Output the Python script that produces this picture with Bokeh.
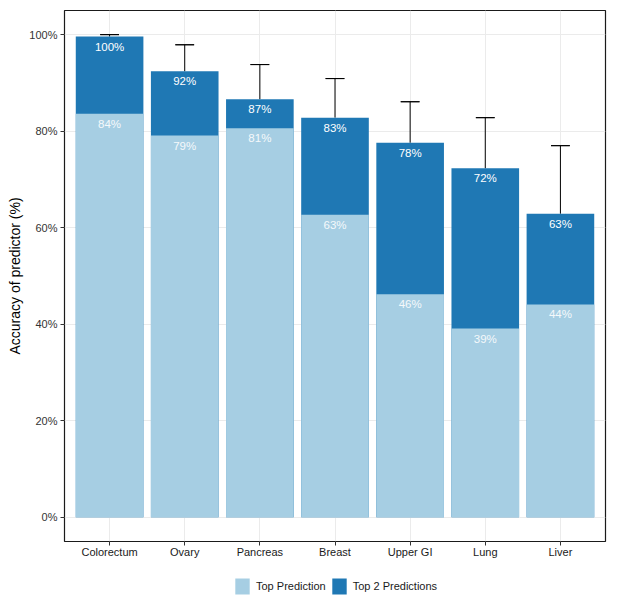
from bokeh.plotting import figure
from bokeh.layouts import column
from bokeh.models import (ColumnDataSource, FactorRange, FixedTicker, PrintfTickFormatter,
                          Legend, LegendItem)
from bokeh.embed import file_html
from bokeh.resources import INLINE
from bokeh.core.properties import value

categories = ["Colorectum", "Ovary", "Pancreas", "Breast", "Upper GI", "Lung", "Liver"]
top_pred = [83.6, 79.1, 80.6, 62.7, 46.2, 39.1, 44.1]
top2_pred = [99.6, 92.4, 86.6, 82.8, 77.6, 72.3, 62.9]
err_upper = [100.0, 97.9, 93.8, 90.9, 86.1, 82.8, 77.0]
y_ticks = [0, 20, 40, 60, 80, 100]
series_names = ["Top Prediction", "Top 2 Predictions"]

LIGHT = "#A6CEE3"
DARK = "#1F78B4"
FONT = "Liberation Sans"

src = ColumnDataSource(dict(
    cat=categories,
    top=top_pred,
    top2=top2_pred,
    up=err_upper,
    top_lbl=["%.0f%%" % v for v in top_pred],
    top2_lbl=["%.0f%%" % v for v in top2_pred],
))

p = figure(x_range=FactorRange(*categories, range_padding=0.1, range_padding_units="absolute"),
           y_range=(-5, 105),
           width=634, height=575,
           frame_width=541, frame_height=531,
           min_border_left=64, min_border_right=29, min_border_top=10, min_border_bottom=34,
           output_backend="svg", toolbar_location=None)

p.background_fill_color = "white"
p.border_fill_color = "white"
p.outline_line_color = "#1a1a1a"
p.outline_line_width = 1.2

p.xgrid.grid_line_color = "#EBEBEB"
p.ygrid.grid_line_color = "#EBEBEB"
p.ygrid.ticker = FixedTicker(ticks=y_ticks)

# error bars (drawn under bars)
p.segment(x0="cat", y0="top2", x1="cat", y1="up", source=src, line_color="black", line_width=1)
p.rect(x="cat", y="up", width=0.25, height=0.0001, source=src, line_color="black",
       line_width=1, fill_color=None)

p.vbar(x="cat", top="top2", bottom=0, width=0.9, source=src, fill_color=DARK, line_color=None)
p.vbar(x="cat", top="top", bottom=0, width=0.9, source=src, fill_color=LIGHT, line_color=None)

p.text(x="cat", y="top2", text="top2_lbl", source=src, text_color="white",
       text_font=value(FONT), text_font_size="11.5px", text_align="center",
       text_baseline="top", y_offset=4)
p.text(x="cat", y="top", text="top_lbl", source=src, text_color="#F5F9FB",
       text_font=value(FONT), text_font_size="11.5px", text_align="center",
       text_baseline="top", y_offset=4)

p.yaxis.ticker = FixedTicker(ticks=y_ticks)
p.yaxis.formatter = PrintfTickFormatter(format="%d%%")
p.yaxis.axis_label = "Accuracy of predictor (%)"
p.yaxis.axis_label_text_font = FONT
p.yaxis.axis_label_text_font_style = "normal"
p.yaxis.axis_label_text_font_size = "14px"
p.yaxis.axis_label_text_color = "black"
p.yaxis.axis_label_standoff = 3

for ax in (p.xaxis, p.yaxis):
    ax.axis_line_color = None
    ax.major_tick_out = 4
    ax.major_tick_in = 0
    ax.minor_tick_out = 0
    ax.minor_tick_in = 0
    ax.major_tick_line_color = "#333333"
    ax.major_label_text_font = FONT
    ax.major_label_text_font_size = "11px"
    ax.major_label_text_color = "#333333"
    ax.major_label_standoff = 3

p.xaxis.major_label_text_color = "#1a1a1a"
p.xaxis.major_label_standoff = 0

# legend strip below the plot
lf = figure(width=634, height=34, x_range=(0, 10), y_range=(0, 10),
            min_border=0, output_backend="svg", toolbar_location=None)
lf.axis.visible = False
lf.grid.visible = False
lf.outline_line_color = None
lf.background_fill_color = "white"
lf.border_fill_color = "white"
offscreen = ColumnDataSource(dict(x=[-100], top=[-100]))
g1 = lf.vbar(x="x", top="top", bottom=-101, width=1, source=offscreen, fill_color=LIGHT, line_color=None)
g2 = lf.vbar(x="x", top="top", bottom=-101, width=1, source=offscreen, fill_color=DARK, line_color=None)

legend = Legend(items=[LegendItem(label=series_names[0], renderers=[g1]),
                       LegendItem(label=series_names[1], renderers=[g2])],
                orientation="horizontal", location=(169, 13))
legend.label_text_font = FONT
legend.label_text_font_size = "11px"
legend.label_text_color = "#1a1a1a"
legend.glyph_width = 18
legend.glyph_height = 20
legend.label_standoff = 5
legend.spacing = 4
legend.margin = 0
legend.padding = 0
legend.border_line_color = None
legend.background_fill_alpha = 0
lf.add_layout(legend, "center")

layout = column(p, lf, spacing=0)
open("out.html", "w").write(file_html(layout, INLINE))
